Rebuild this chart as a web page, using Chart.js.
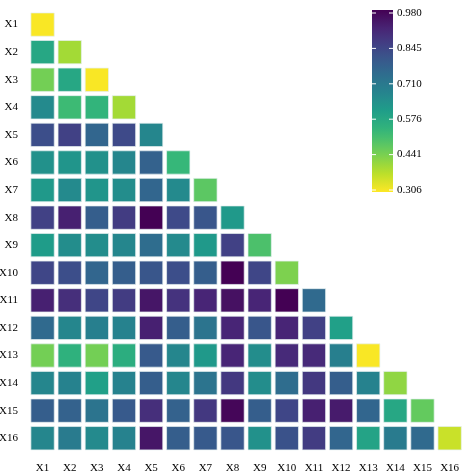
<!DOCTYPE html>
<html>
<head>
<meta charset="utf-8">
<script src="https://cdn.jsdelivr.net/npm/chart.js@4/dist/chart.umd.min.js"></script>
<style>
  html, body { margin: 0; padding: 0; background: #fff; }
  #wrap { width: 474px; height: 474px; }
</style>
</head>
<body>
<div id="wrap"><canvas id="myChart"></canvas></div>
<script>
const varNames = ['X1','X2','X3','X4','X5','X6','X7','X8','X9','X10','X11','X12','X13','X14','X15','X16'];

// lower triangle, row by row (diagonal included)
const row1  = [0.31];
const row2  = [0.58, 0.40];
const row3  = [0.45, 0.58, 0.31];
const row4  = [0.66, 0.52, 0.54, 0.40];
const row5  = [0.82, 0.85, 0.76, 0.83, 0.67];
const row6  = [0.64, 0.63, 0.64, 0.67, 0.77, 0.53];
const row7  = [0.62, 0.66, 0.63, 0.65, 0.76, 0.66, 0.48];
const row8  = [0.85, 0.92, 0.78, 0.86, 0.98, 0.83, 0.80, 0.62];
const row9  = [0.61, 0.65, 0.65, 0.67, 0.74, 0.66, 0.62, 0.85, 0.50];
const row10 = [0.84, 0.82, 0.76, 0.78, 0.80, 0.82, 0.78, 0.98, 0.84, 0.44];
const row11 = [0.92, 0.89, 0.84, 0.86, 0.94, 0.88, 0.91, 0.95, 0.91, 0.98, 0.75];
const row12 = [0.75, 0.67, 0.69, 0.68, 0.92, 0.78, 0.72, 0.91, 0.80, 0.91, 0.85, 0.60];
const row13 = [0.45, 0.55, 0.45, 0.56, 0.79, 0.67, 0.62, 0.91, 0.65, 0.90, 0.90, 0.69, 0.31];
const row14 = [0.67, 0.68, 0.60, 0.68, 0.78, 0.67, 0.72, 0.87, 0.65, 0.74, 0.87, 0.78, 0.68, 0.42];
const row15 = [0.78, 0.77, 0.72, 0.79, 0.89, 0.77, 0.87, 0.97, 0.78, 0.84, 0.92, 0.93, 0.76, 0.58, 0.47];
const row16 = [0.67, 0.70, 0.66, 0.68, 0.94, 0.78, 0.79, 0.80, 0.64, 0.81, 0.86, 0.76, 0.59, 0.70, 0.75, 0.36];
const rows = [row1,row2,row3,row4,row5,row6,row7,row8,row9,row10,row11,row12,row13,row14,row15,row16];

const scaleMin = 0.306, scaleMax = 0.980;
const barLabels = ['0.980','0.845','0.710','0.576','0.441','0.306'];

// viridis stops (t=0 purple -> t=1 yellow)
const viridis = [[68,1,84],[72,40,120],[62,74,137],[49,104,142],[38,130,142],[31,158,137],[53,183,121],[110,206,88],[181,222,43],[253,231,37]];
function viri(t){
  t = Math.max(0, Math.min(1, t));
  const p = t * (viridis.length - 1), i = Math.min(Math.floor(p), viridis.length - 2), f = p - i;
  const a = viridis[i], b = viridis[i+1];
  return 'rgb(' + a.map((v,k)=>Math.round(v + (b[k]-v)*f)).join(',') + ')';
}
// high values dark, low values yellow
function colorFor(v){ return viri((scaleMax - v) / (scaleMax - scaleMin)); }

const points = [];
rows.forEach((r, i) => r.forEach((v, j) => points.push({x: j + 1, y: i + 1, v: v})));

const serif = "'Liberation Serif', 'DejaVu Serif', serif";

const colorBar = {
  id: 'colorBar',
  afterDraw(chart){
    const c = chart.ctx;
    const x = 372, w = 21, top = 10, bot = 192;
    const g = c.createLinearGradient(0, top, 0, bot);
    for (let k = 0; k <= 20; k++) g.addColorStop(k/20, viri(k/20));
    c.save();
    c.fillStyle = g;
    c.fillRect(x, top, w, bot - top);
    c.fillStyle = '#000';
    c.font = '11px ' + serif;
    c.textBaseline = 'middle';
    barLabels.forEach((lab, k) => {
      const yy = 13 + k * (190 - 13) / (barLabels.length - 1);
      c.strokeStyle = '#fff';
      c.beginPath(); c.moveTo(x, yy); c.lineTo(x + 4, yy); c.moveTo(x + w - 4, yy); c.lineTo(x + w, yy); c.stroke();
      c.fillText(lab, x + w + 4, yy);
    });
    c.restore();
  }
};

const wholeTicks = s => { s.ticks = varNames.map((n, i) => ({ value: i + 1 })); };

new Chart(document.getElementById('myChart'), {
  type: 'scatter',
  data: {
    datasets: [{
      data: points,
      pointStyle: 'rect',
      backgroundColor: ctx => colorFor(ctx.raw.v),
      borderColor: 'rgba(230,240,240,0.9)',
      borderWidth: 0.8,
      radius: ctx => {
        const a = ctx.chart.chartArea;
        if (!a) return 10;
        const half = (a.right - a.left) / 16 / 2 * 0.86;
        return half / Math.SQRT1_2;
      },
      hoverRadius: 0
    }]
  },
  plugins: [colorBar],
  options: {
    responsive: true,
    maintainAspectRatio: false,
    animation: false,
    layout: { padding: { top: 2, right: 3, left: 0, bottom: 0 } },
    plugins: { legend: { display: false }, tooltip: { enabled: false } },
    scales: {
      x: {
        type: 'linear', min: 0.5, max: 16.5,
        grid: { display: false }, border: { display: false },
        afterBuildTicks: wholeTicks,
        afterFit: s => { s.height = 22; },
        ticks: { autoSkip: false, maxRotation: 0, padding: 2, color: '#000',
                 font: { family: serif, size: 11 },
                 callback: v => varNames[Math.round(v) - 1] || '' }
      },
      y: {
        type: 'linear', min: 0.5, max: 16.5, reverse: true,
        grid: { display: false }, border: { display: false },
        afterBuildTicks: wholeTicks,
        afterFit: s => { s.width = 29; },
        ticks: { autoSkip: false, padding: 3, color: '#000',
                 font: { family: serif, size: 11 },
                 callback: v => varNames[Math.round(v) - 1] || '' }
      }
    }
  }
});
</script>
</body>
</html>
